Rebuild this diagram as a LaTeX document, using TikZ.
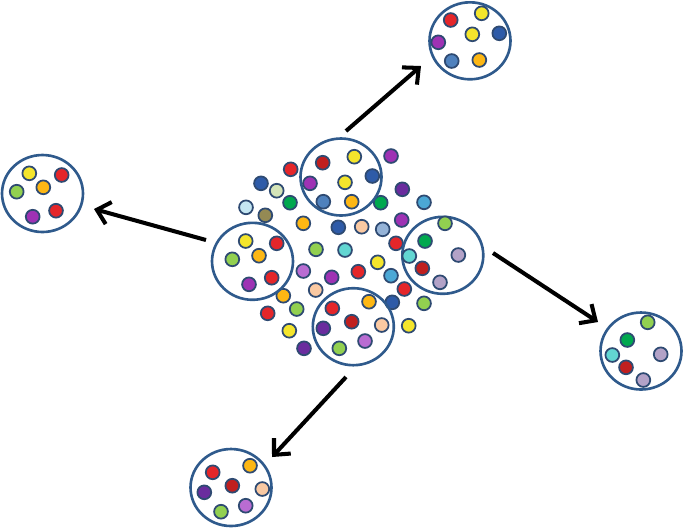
\documentclass[tikz,border=0pt]{standalone}
\usepackage{tikz}
\usetikzlibrary{arrows.meta,shapes.geometric}
\definecolor{ringblue}{HTML}{2F5A8C}
\definecolor{dotedge}{HTML}{2E4A72}
\definecolor{cred}{HTML}{E4262A}
\definecolor{cdred}{HTML}{C01F1F}
\definecolor{cyellow}{HTML}{F4E52C}
\definecolor{corange}{HTML}{FDB714}
\definecolor{clime}{HTML}{92D050}
\definecolor{cgreen}{HTML}{00A84F}
\definecolor{cpurple}{HTML}{9E32B4}
\definecolor{cdpurple}{HTML}{6A2C9E}
\definecolor{cdblue}{HTML}{2E5BA8}
\definecolor{csteel}{HTML}{4F81BD}
\definecolor{csky}{HTML}{4BA8D6}
\definecolor{cturq}{HTML}{62D6D2}
\definecolor{cpeach}{HTML}{FAC9A2}
\definecolor{cgrayblue}{HTML}{95B3D7}
\definecolor{clilac}{HTML}{B3A2C7}
\definecolor{corchid}{HTML}{B96CD2}
\definecolor{cpalegreen}{HTML}{D4E4B8}
\definecolor{cpaleblue}{HTML}{C4E6F2}
\definecolor{colive}{HTML}{948A54}

\newcommand{\blob}[3]{\filldraw[fill=#1, draw=dotedge, line width=1pt] (#2,#3) circle (6.9);}

\begin{document}
\begin{tikzpicture}[x=0.02cm, y=-0.02cm,
    grp/.style={ellipse, draw=ringblue, line width=1.5pt, minimum width=1.62cm, minimum height=1.54cm, inner sep=0pt},
    arr/.style={line width=2.3pt, -{Straight Barb[length=7pt, width=13pt, line width=2.3pt]}}]
    \useasboundingbox (0,0) rectangle (685,529);
    % loose dots of the mixed population
    \foreach \c/\x/\y in {cred/290.7/169.3, cdblue/261/183.3, cpalegreen/276.7/190.7, cgreen/290/202.7,
        cpaleblue/246/207.3, colive/265.3/215.3, corange/303.3/223.3, cdblue/338.3/227.3,
        cpeach/361.7/226.7, cgrayblue/382.7/229.3, cpurple/401.7/220, cgreen/380.7/202.7,
        cdpurple/402.3/189.3, csky/424/202.3, cpurple/391/156, cred/396/243.3,
        clime/316/249.3, cturq/345/250, cyellow/377.7/262.3, csky/391/275.7,
        cred/358.3/271.7, cpurple/331.7/277.3, corchid/303.3/271, cpeach/315.7/290,
        corange/283.3/295.7, cred/404.3/289, cdblue/392.3/302.3, clime/424/303.3,
        cred/267.7/313.3, clime/296.7/309, cyellow/289.3/330.7, cdpurple/304/348.3,
        cyellow/408.7/325.7}
        {\blob{\c}{\x}{\y}}
    % sampled groups in the population
    \node[grp] (ctop) at (341,177) {};
    \node[grp] (cleft) at (252.5,261.3) {};
    \node[grp] (cright) at (442.8,255.3) {};
    \node[grp] (cbot) at (353.3,326.7) {};
    \foreach \c/\x/\y in {cdred/322.7/162.7, cyellow/354.3/156.7, cdblue/372.3/176, cpurple/310/183.3,
        cyellow/345/182.3, csteel/323.3/201.7, corange/351.7/201.7,
        cyellow/245.7/241, cred/276.7/243.3, clime/232.3/259.3, corange/259/255.7,
        cpurple/249/284.3, cred/271.7/277.7,
        clime/445/223.3, cgreen/425/241, cturq/409.3/256, clilac/458.3/255,
        cdred/422.3/268.3, clilac/440/282.3,
        cred/332.3/308.3, corange/369/301.7, cdred/351.7/321.7, cdpurple/323.3/328.3,
        cpeach/381.7/325, corchid/365/341, clime/339.3/348.3}
        {\blob{\c}{\x}{\y}}
    % groups taken out
    \node[grp] (otop) at (470,40.8) {};
    \node[grp] (oleft) at (42.5,193.5) {};
    \node[grp] (oright) at (641,351) {};
    \node[grp] (obot) at (231,487.5) {};
    \foreach \c/\x/\y in {cred/450.7/20, cyellow/481.7/13.3, cpurple/438.3/42.3, cyellow/472.3/34.3,
        cdblue/499.3/33.3, csteel/451.7/61, corange/479.3/60,
        cyellow/29.3/173.3, cred/61.7/175, clime/16.7/191.7, corange/43.3/187.3,
        cred/56/210.7, cpurple/32.7/216.7,
        clime/647.7/322.3, cgreen/627.3/340, cturq/612.3/355, clilac/660.7/354.3,
        cdred/626/367.3, clilac/643.3/380,
        cred/212.7/472.3, corange/250/465.7, cdred/232.3/485.7, cdpurple/204.3/492.3,
        cpeach/262.3/489, corchid/245.7/505.7, clime/221/511.7}
        {\blob{\c}{\x}{\y}}
    % arrows
    \coordinate (atop) at (346,131);
    \coordinate (btop) at (421,66);
    \coordinate (aleft) at (206,240);
    \coordinate (bleft) at (94,209);
    \coordinate (aright) at (493,253);
    \coordinate (bright) at (598,322);
    \coordinate (abot) at (346,377);
    \coordinate (bbot) at (272,457);
    \draw[arr] (atop) -- (btop);
    \draw[arr] (aleft) -- (bleft);
    \draw[arr] (aright) -- (bright);
    \draw[arr] (abot) -- (bbot);
\end{tikzpicture}
\end{document}
